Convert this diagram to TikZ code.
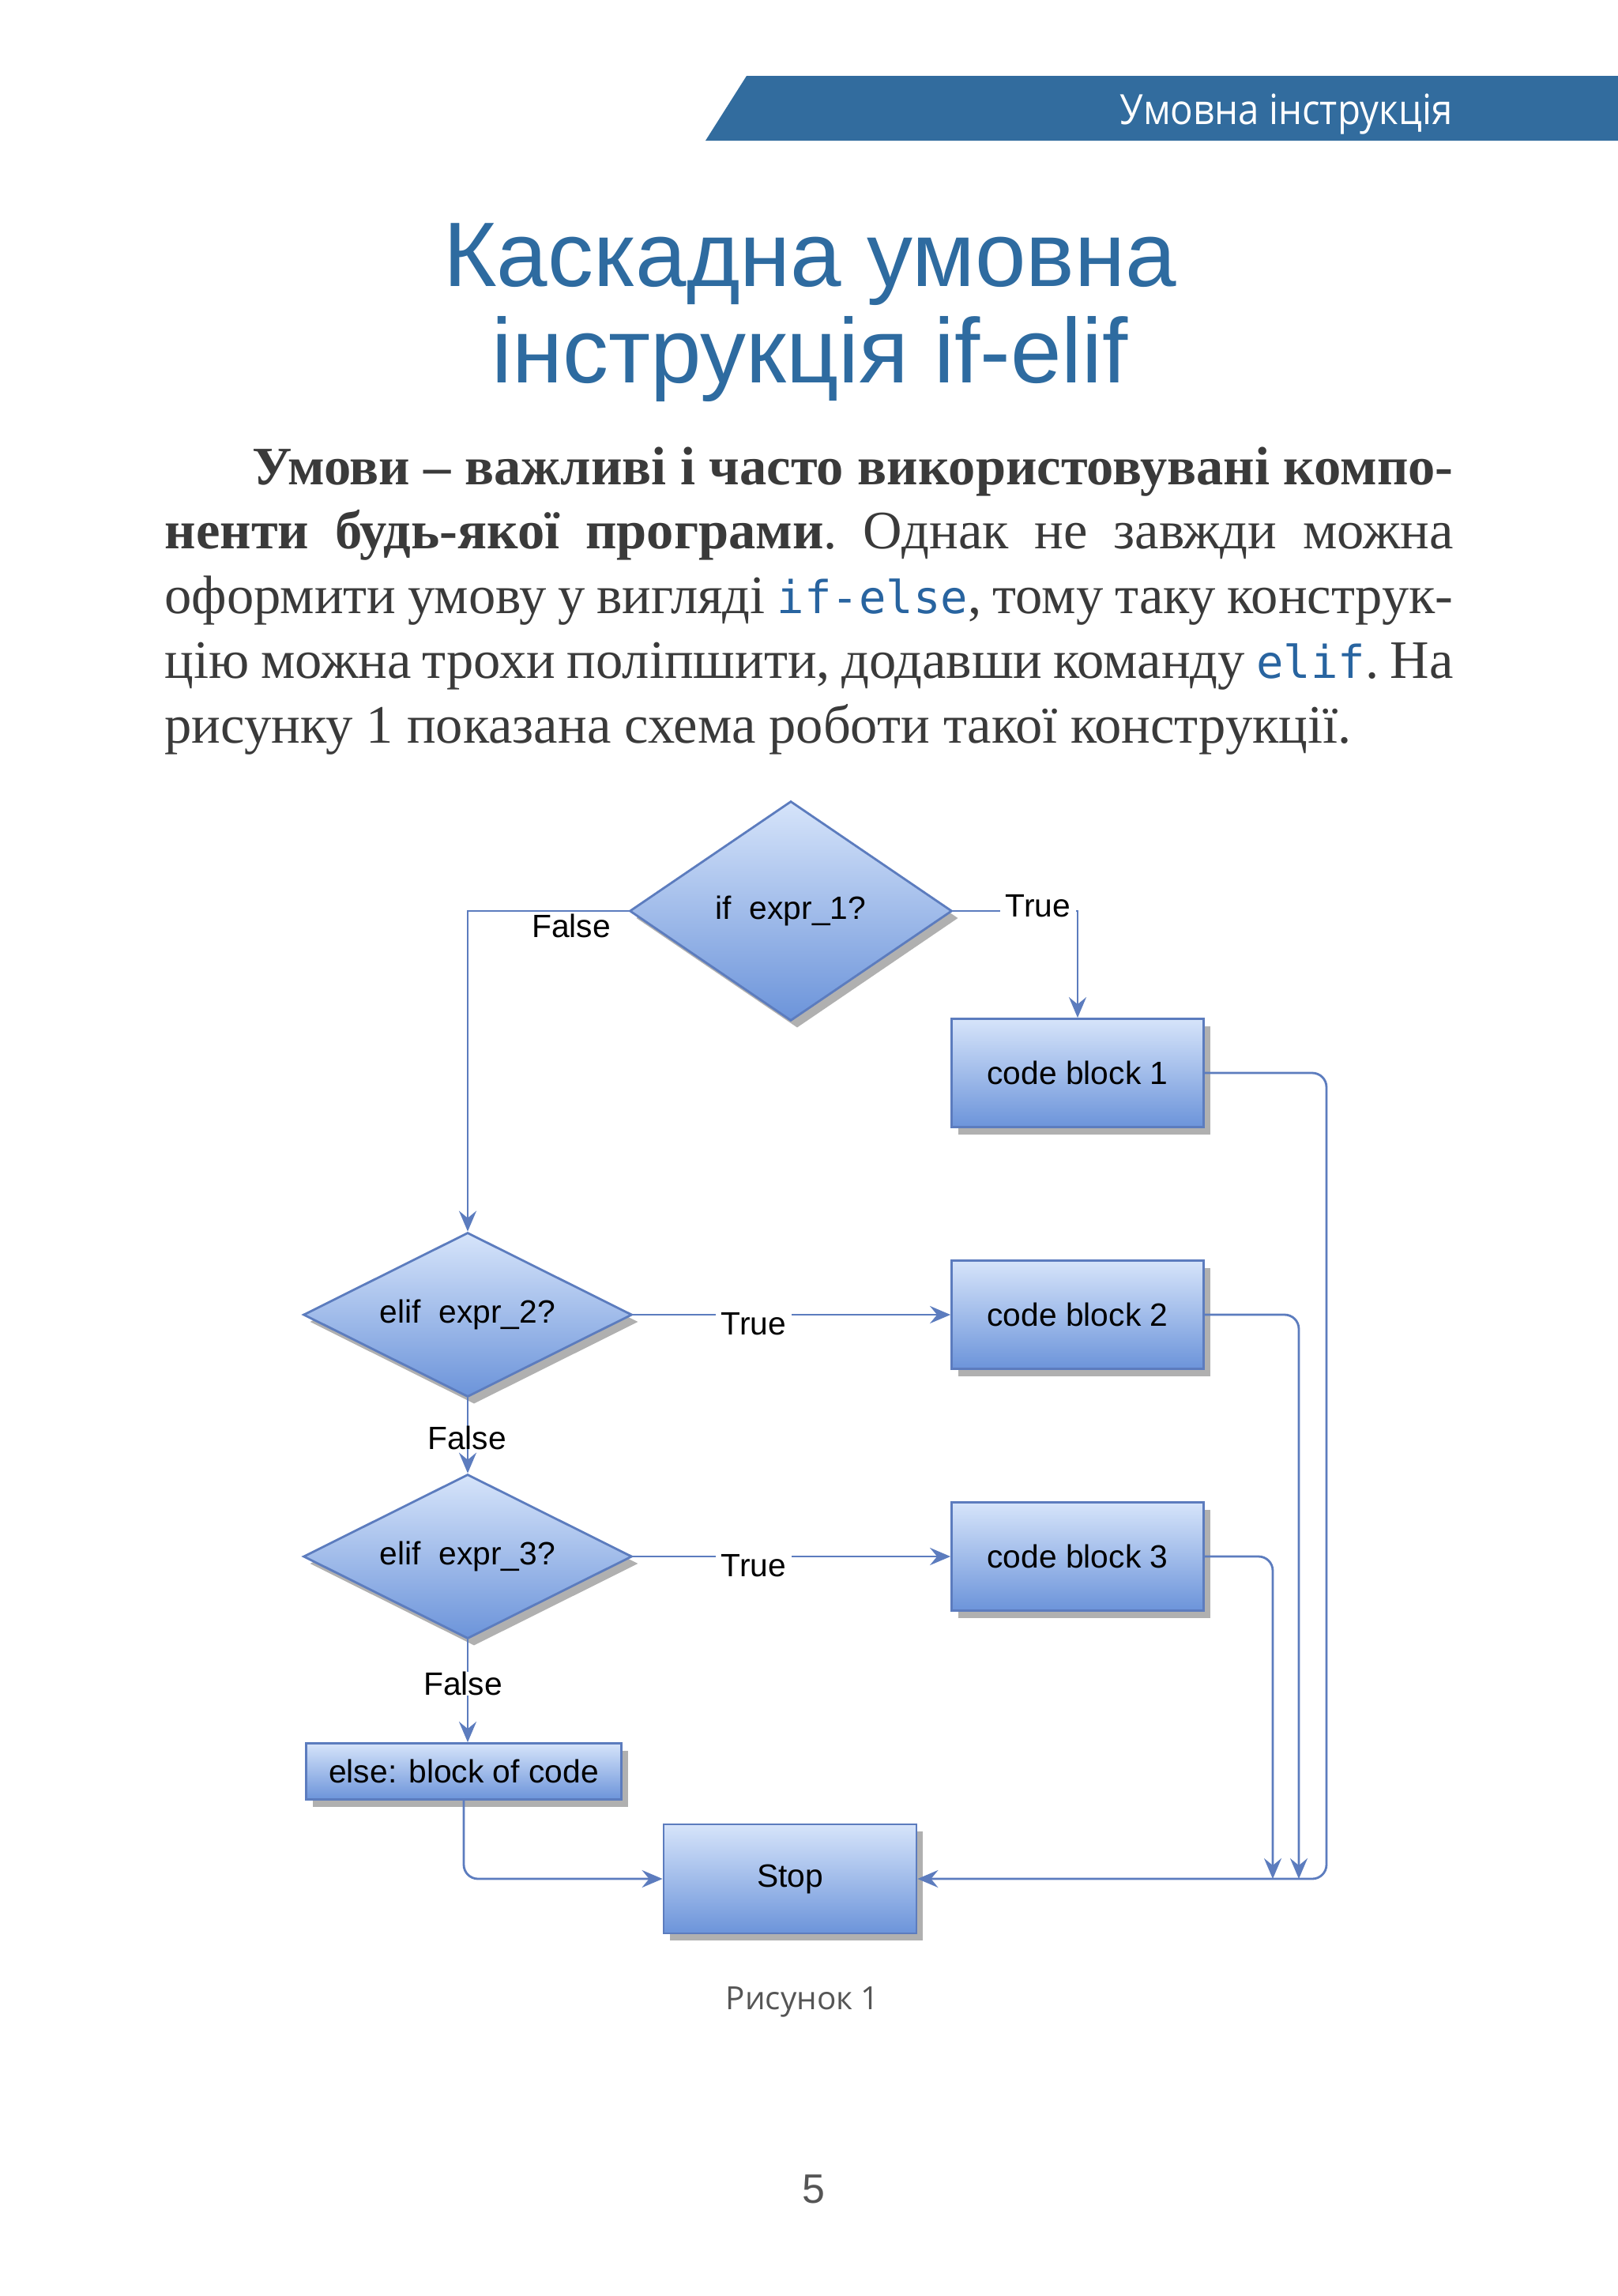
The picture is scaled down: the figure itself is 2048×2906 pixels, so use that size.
\documentclass[tikz,border=0pt]{standalone}
\usepackage{fontspec}
\setmainfont{Liberation Serif}
\newfontfamily\headfont[FakeStretch=0.9]{Open Sans}
\newfontfamily\titlefont{Liberation Sans}
\newfontfamily\chartfont{Liberation Sans}
\newfontfamily\capfont{Open Sans}
\newfontfamily\codefont{DejaVu Sans Mono}
\usetikzlibrary{shapes.geometric,shadows,arrows.meta}
\definecolor{bandblue}{RGB}{50,108,158}
\definecolor{titleblue}{RGB}{46,107,160}
\definecolor{codeblue}{RGB}{40,100,160}
\definecolor{bodygray}{RGB}{58,58,58}
\definecolor{lineblue}{RGB}{92,124,190}
\definecolor{gtop}{RGB}{214,228,250}
\definecolor{gbot}{RGB}{108,148,218}
\definecolor{shadowgray}{RGB}{176,176,176}
\definecolor{capgray}{RGB}{85,85,85}
\newcommand\codetxt[1]{{\codefont\fontsize{16.3pt}{23.3pt}\selectfont\textcolor{codeblue}{#1}}}
\tikzset{
  chartfnt/.style={font=\chartfont\fontsize{11.6pt}{13pt}\selectfont},
  shadowed/.style={drop shadow={shadow xshift=0.8mm, shadow yshift=-0.9mm, fill=shadowgray, opacity=1}},
  box/.style={rectangle, draw=lineblue, line width=0.8pt, top color=gtop, bottom color=gbot, shadowed, chartfnt, inner sep=0pt, text=black},
  dec/.style={diamond, draw=lineblue, line width=0.8pt, top color=gtop, bottom color=gbot, shadowed, chartfnt, inner sep=0pt, text=black},
  conn/.style={draw=lineblue, line width=0.8pt, -{Stealth[length=2.6mm, width=2.2mm, inset=0.9mm]}},
  lbl/.style={chartfnt, text=black, inner ysep=0pt, inner xsep=2pt},
  lblw/.style={lbl, fill=white},
}
\begin{document}
\begin{tikzpicture}[x={(0.1mm,0)}, y={(0,-0.1mm)}]
\useasboundingbox (0,0) rectangle (2048,2906);
\fill[white] (0,0) rectangle (2048,2906);
% header band
\fill[bandblue] (945,96) -- (2048,96) -- (2048,178) -- (893,178) -- cycle;
\node[anchor=base east, inner sep=0pt, text=white, font=\headfont\fontsize{15pt}{17pt}\selectfont] (hdr) at (1839,157) {Умовна інструкція};
% title
\node[anchor=north, align=center, inner sep=0pt, text=titleblue, font=\titlefont\fontsize{33pt}{34.7pt}\selectfont] (title) at (1025,282) {Каскадна умовна\\інструкція if-elif};
% body
\node[anchor=north west, text width=163.1mm, align=justify, inner sep=0pt, text=bodygray, font=\fontsize{19.5pt}{23.3pt}\selectfont\frenchspacing] (body) at (208,555)
{\strut\hspace*{11.1mm}\textbf{Умови – важливі і часто використовувані компо-\linebreak ненти будь-якої програми}. Однак не завжди можна\linebreak оформити умову у вигляді \codetxt{if-else}, тому таку конструк-\linebreak цію можна трохи поліпшити, додавши команду \codetxt{elif}. На\linebreak рисунку 1 показана схема роботи такої конструкції.};
% flowchart nodes
\node[dec, aspect=1.47, minimum width=40.8mm, minimum height=27.8mm] (d1) at (1001,1153) {if\ \ expr\_1?};
\node[box, minimum width=31.9mm, minimum height=13.7mm] (cb1) at (1364,1358) {code block 1};
\node[box, minimum width=31.9mm, minimum height=13.7mm] (cb2) at (1364,1664) {code block 2};
\node[box, minimum width=31.9mm, minimum height=13.7mm] (cb3) at (1364,1970) {code block 3};
\node[dec, aspect=2, minimum width=41.6mm, minimum height=20.8mm] (d2) at (592,1664) {elif\ \ expr\_2?};
\node[dec, aspect=2, minimum width=41.6mm, minimum height=20.8mm] (d3) at (592,1970) {elif\ \ expr\_3?};
\node[box, minimum width=39.9mm, minimum height=7.1mm] (els) at (587,2242) {else: block of code};
\node[box, minimum width=32mm, minimum height=13.8mm] (stop) at (1000,2378) {Stop};
% helper coordinates for return lines
\coordinate (r1) at (1679,2378);
\coordinate (r2) at (1644,2378);
\coordinate (r3) at (1611,2378);
% connectors
\draw[conn] (d1.west) -| (d2.north);
\draw[conn] (d1.east) -| (cb1.north);
\draw[conn] (d2.east) -- (cb2.west);
\draw[conn] (d3.east) -- (cb3.west);
\draw[conn] (d2.south) -- (d3.north);
\draw[conn] (d3.south) -- (d3.south |- els.north);
\draw[conn, rounded corners=1.8mm] (els.south) |- (stop.west);
\draw[conn, rounded corners=1.8mm] (cb1.east) -| (r1) -- (stop.east);
\draw[conn, rounded corners=1.8mm] (cb2.east) -| (r2);
\draw[conn, rounded corners=1.8mm] (cb3.east) -| (r3);
% labels
\node[lbl, anchor=north] (f1) at (723,1156) {False};
\node[lblw] (t1) at (1314,1147) {True};
\node[lblw, anchor=north] (t2) at (954,1661) {True};
\node[lblw, anchor=north] (t3) at (954,1967) {True};
\node[lbl] (f2) at (591,1820) {False};
\node[lblw] (f3) at (586,2131) {False};
% caption and page number
\node[text=capgray, font=\capfont\fontsize{11.5pt}{13pt}\selectfont] (cap) at (1016,2534) {Рисунок 1};
\node[text=capgray, font=\titlefont\fontsize{14.8pt}{16pt}\selectfont] (pg) at (1030,2771) {5};
\end{tikzpicture}
\end{document}
